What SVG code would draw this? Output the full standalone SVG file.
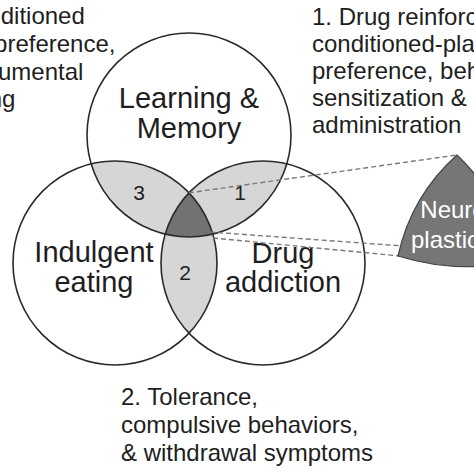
<svg xmlns="http://www.w3.org/2000/svg" width="474" height="474" viewBox="0 0 474 474">
  <style>
    text { font-family: "Liberation Sans", Arial, sans-serif; fill: #1e1e1e; }
    .big { font-size: 29px; text-anchor: middle; }
    .num { font-size: 21px; text-anchor: middle; }
    .note { font-size: 24px; }
    .ring { fill: none; stroke: #2a2a2a; stroke-width: 1.6; }
    .lens { fill: #d6d6d6; }
    .core { fill: #727272; }
    .dash { fill: none; stroke: #7a7a7a; stroke-width: 1.4; stroke-dasharray: 5 3; }
  </style>
  <rect width="474" height="474" fill="#ffffff"/>

  <g id="overlaps">
    <path id="overlap-1" class="lens" d="M286.9,163.8 A102,102 0 0 1 165.1,234.2 A102,102 0 0 1 286.9,163.8 Z"/>
    <path id="overlap-3" class="lens" d="M91.1,163.8 A102,102 0 0 0 212.9,234.2 A102,102 0 0 0 91.1,163.8 Z"/>
    <path id="overlap-2" class="lens" d="M189,192.8 A102,102 0 0 1 189,333.2 A102,102 0 0 1 189,192.8 Z"/>
    <path id="overlap-core" class="core" d="M189,192.8 A102,102 0 0 0 165.1,234.2 A102,102 0 0 0 212.9,234.2 A102,102 0 0 0 189,192.8 Z"/>
    <text class="num" x="240" y="200">1</text>
    <text class="num" x="185" y="280">2</text>
    <text class="num" x="139" y="200">3</text>
  </g>

  <g id="node-learning">
    <circle class="ring" cx="189" cy="135" r="102"/>
    <text class="big" x="189" y="108">Learning &amp;</text>
    <text class="big" x="189" y="138">Memory</text>
  </g>
  <g id="node-eating">
    <circle class="ring" cx="115" cy="263" r="102"/>
    <text class="big" x="94" y="262">Indulgent</text>
    <text class="big" x="94" y="292">eating</text>
  </g>
  <g id="node-addiction">
    <circle class="ring" cx="263" cy="263" r="102"/>
    <text class="big" x="283" y="263">Drug</text>
    <text class="big" x="283" y="292">addiction</text>
  </g>

  <g id="connectors">
    <line class="dash" x1="189" y1="192.8" x2="457" y2="155"/>
    <line class="dash" x1="210" y1="232" x2="403" y2="246"/>
    <line class="dash" x1="213" y1="238" x2="400" y2="256"/>
  </g>

  <g id="node-neuroplasticity">
    <path d="M457,155 A190,190 0 0 0 398,256 A235,235 0 0 0 514,262 A190,190 0 0 0 457,155 Z" fill="#767676" stroke="#444444" stroke-width="1.2"/>
    <text x="457" y="218" font-size="24" text-anchor="middle" style="fill:#ffffff">Neuro-</text>
    <text x="457" y="248" font-size="24" text-anchor="middle" style="fill:#ffffff">plasticity</text>
  </g>

  <g id="note-1">
    <text class="note" x="312" y="25">1. Drug reinforcement,</text>
    <text class="note" x="312" y="52">conditioned-place</text>
    <text class="note" x="312" y="79">preference, behavioral</text>
    <text class="note" x="312" y="106">sensitization &amp; self-</text>
    <text class="note" x="312" y="133">administration</text>
  </g>
  <g id="note-2">
    <text class="note" x="121" y="405">2. Tolerance,</text>
    <text class="note" x="121" y="433">compulsive behaviors,</text>
    <text class="note" x="121" y="461">&amp; withdrawal symptoms</text>
  </g>
  <g id="note-3">
    <text class="note" x="-70" y="24">3. Conditioned</text>
    <text class="note" x="-70" y="52">place preference,</text>
    <text class="note" x="-70" y="80">&amp; instrumental</text>
    <text class="note" x="-70" y="107">learning</text>
  </g>
</svg>
